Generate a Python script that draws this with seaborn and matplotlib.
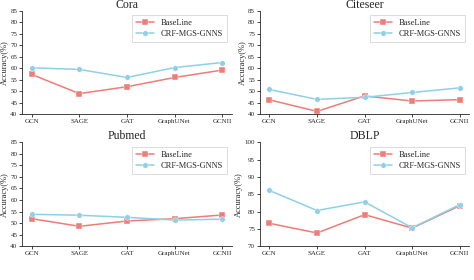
import pandas as pd
import matplotlib
matplotlib.use('Agg')
import matplotlib.pyplot as plt
import seaborn as sns

models = ['GCN', 'SAGE', 'GAT', 'GraphUNet', 'GCNII']
datasets = ['Cora', 'Citeseer', 'Pubmed', 'DBLP']

baseline = {
    'Cora': [57.3, 49.0, 52.0, 56.0, 59.2],
    'Citeseer': [46.3, 41.3, 48.0, 45.8, 46.4],
    'Pubmed': [51.9, 48.6, 50.9, 51.9, 53.5],
    'DBLP': [76.6, 73.8, 79.1, 75.2, 81.7],
}
crf = {
    'Cora': [60.2, 59.5, 56.0, 60.3, 62.5],
    'Citeseer': [50.8, 46.5, 47.4, 49.5, 51.5],
    'Pubmed': [53.8, 53.4, 52.5, 51.3, 51.7],
    'DBLP': [86.1, 80.3, 82.8, 75.3, 82.0],
}
ylims = {'Cora': (40, 85), 'Citeseer': (40, 85), 'Pubmed': (40, 85), 'DBLP': (70, 100)}

sns.set_style('ticks')
plt.rcParams['font.family'] = ['Liberation Serif', 'DejaVu Serif']

fig, axes = plt.subplots(2, 2, figsize=(4.74, 2.8), dpi=100)
fig.subplots_adjust(left=0.047, right=0.99, top=0.962, bottom=0.121, wspace=0.135, hspace=0.27)

colors = {'BaseLine': '#ee7c78', 'CRF-MGS-GNNS': '#8fd0e6'}
markers = {'BaseLine': 's', 'CRF-MGS-GNNS': 'o'}

for ax, name in zip(axes.flat, datasets):
    rows = []
    for m, b, c in zip(models, baseline[name], crf[name]):
        rows.append({'Model': m, 'Method': 'BaseLine', 'Acc': b})
        rows.append({'Model': m, 'Method': 'CRF-MGS-GNNS', 'Acc': c})
    df = pd.DataFrame(rows)
    sns.lineplot(data=df, x='Model', y='Acc', hue='Method', style='Method',
                 palette=colors, markers=markers, dashes=False, sort=False,
                 linewidth=1.1, markersize=4, markeredgewidth=0.3, ax=ax)
    lo, hi = ylims[name]
    ax.set_ylim(lo, hi)
    ax.set_yticks(range(lo, hi + 1, 5))
    ax.set_title(name, fontsize=8.5, pad=2)
    ax.set_xlabel('')
    ax.set_ylabel('Accuracy(%)', fontsize=6, labelpad=1)
    ax.tick_params(axis='both', labelsize=5, length=2, width=0.6, pad=1.5)
    for s in ['left', 'bottom']:
        ax.spines[s].set_linewidth(0.6)
    sns.despine(ax=ax)
    leg = ax.legend(loc='upper right', fontsize=6, frameon=True, fancybox=False,
                    handlelength=2.2, borderpad=0.5, labelspacing=0.4)
    leg.get_frame().set_edgecolor('#cccccc')
    leg.get_frame().set_linewidth(0.6)

fig.savefig('out.png', dpi=100)
